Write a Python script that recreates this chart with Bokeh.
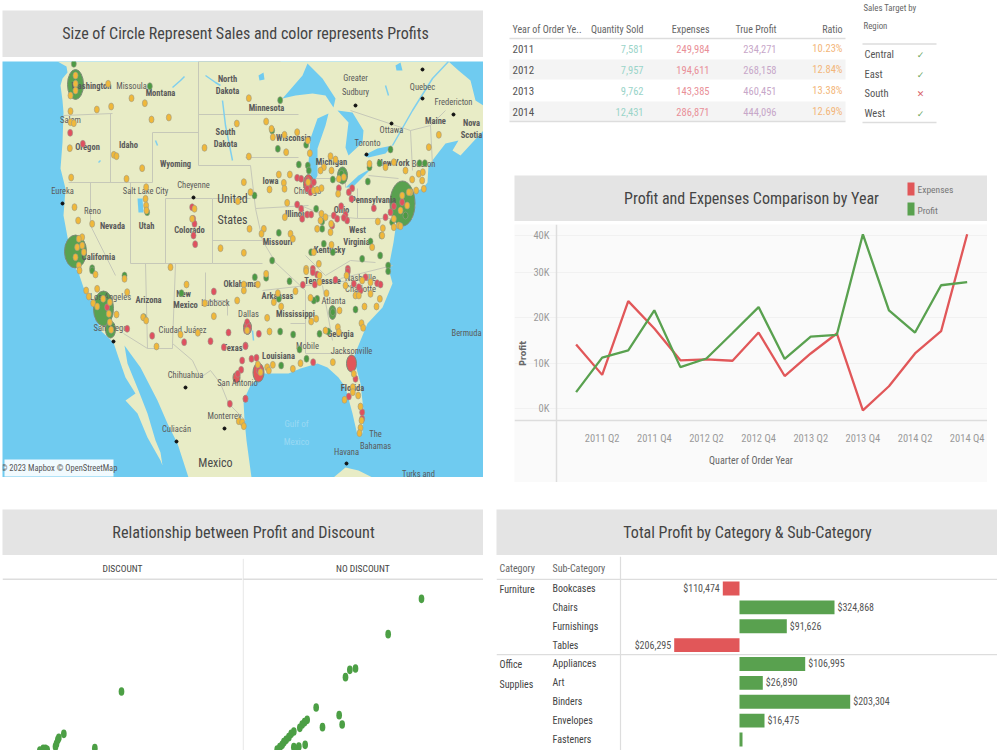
from bokeh.plotting import figure
from bokeh.layouts import column, row
from bokeh.models import Range1d, FixedTicker
from bokeh.core.properties import value
from bokeh.embed import file_html
from bokeh.resources import INLINE

F = "Roboto Condensed"
GREEN = "#59a14f"
RED = "#e15759"
BAND = "#e4e4e4"

# ---------- table data
years = ["2011", "2012", "2013", "2014"]
quantity = ["7,581", "7,957", "9,762", "12,431"]
expenses = ["249,984", "194,611", "143,385", "286,871"]
true_profit = ["234,271", "268,158", "460,451", "444,096"]
ratio = ["10.23%", "12.84%", "13.38%", "12.69%"]
regions = ["Central", "East", "South", "West"]
region_met = [True, True, False, True]

# ---------- line chart data
quarter_labels = ["2011 Q2", "2011 Q4", "2012 Q2", "2012 Q4", "2013 Q2", "2013 Q4", "2014 Q2", "2014 Q4"]
quarter_label_idx = [1, 3, 5, 7, 9, 11, 13, 15]
expenses_q = [14200, 7500, 23700, 17700, 10700, 10900, 10600, 16800, 7250, 12200, 16600, -300, 5000, 12200, 17100, 38400]
profit_q = [3700, 11300, 12900, 21700, 9200, 11100, 16700, 22400, 11000, 15900, 16300, 38400, 21700, 16800, 27200, 27900]

# ---------- bar chart data
sub_cats = ["Bookcases", "Chairs", "Furnishings", "Tables", "Appliances", "Art", "Binders", "Envelopes", "Fasteners"]
bar_len = [-16.7, 95, 47.3, -65.3, 65.7, 23.3, 110.7, 25, 3]
bar_text = ["$110,474", "$324,868", "$91,626", "$206,295", "$106,995", "$26,890", "$203,304", "$16,475", ""]

# ---------- scatter data (axes are hidden)
disc_pts = [(363, 573), (190, 700), (175, 712), (172, 718), (168, 730), (165, 738), (283, 743), (135, 745), (128, 745), (140, 748), (118, 750)]
nodisc_pts = [(1263, 295), (1163, 401), (1065, 504), (1048, 508), (1035, 530), (947, 621), (1016, 644), (966, 680), (1025, 672),
              (920, 658), (912, 665), (905, 672), (898, 682), (880, 693), (872, 700), (865, 710), (857, 718), (850, 725),
              (845, 733), (838, 740), (830, 747), (914, 733), (895, 738), (880, 740), (884, 745)]

# ---------- map data, picture positions
land = [(57,61),(66,66),(67,72),(62,78),(60,85),(62,100),(63,112),(62,142),(60,168),(65,188),(63,215),(68,242),(75,268),(78,272),(83,287),(93,305),(100,330),(113,342),(118,357),(125,377),(135,393),(125,400),(137,413),(147,437),(160,460),(162,465),(160,452),(155,440),(147,413),(138,390),(127,363),(124,345),(140,367),(157,400),(167,423),(177,443),(188,477),(251,477),(246,440),(244,420),(243,400),(250,385),(257,378),(263,373),(275,373),(288,373),(300,368),(317,363),(327,367),(338,377),(345,387),(352,413),(357,435),(362,433),(363,410),(360,383),(353,357),(360,340),(367,323),(382,307),(392,283),(388,268),(393,242),(395,228),(412,218),(415,205),(412,192),(422,188),(427,182),(428,165),(438,152),(445,143),(458,140),(452,150),(460,155),(483,130),(483,105),(475,100),(470,80),(458,70),(448,61)]
cuba = [(333,477),(345,467),(358,470),(372,477)]
lakes = [
    [(282,98),(302,75),(307,63),(322,78),(335,98),(333,107),(325,95),(312,93),(295,95)],
    [(308,162),(310,138),(317,118),(328,113),(325,125),(317,148),(317,175),(312,185)],
    [(337,110),(352,112),(363,130),(362,142),(348,155),(345,147),(348,122)],
    [(345,187),(358,175),(372,167),(367,172),(352,187)],
    [(363,155),(377,148),(392,145),(385,153),(368,157)],
    [(137,198),(142,198),(143,212),(138,212)],
    [(395,65),(400,62),(402,70),(396,70)],
    [(258,75),(263,72),(264,79),(259,80)],
]
rivers = [[(448,61),(432,78),(412,110),(392,145)], [(172,87),(180,80),(184,76)], [(205,75),(215,82),(220,85)],
          [(222,100),(225,125),(232,160)], [(100,160),(98,162)], [(155,140),(157,145)], [(252,330),(253,340)], [(385,85),(388,95)]]
borders = [
    [(198,61),(198,165)], [(198,114),(298,114)], [(152,132),(198,132)], [(152,132),(152,182)], [(68,182),(152,182)],
    [(63,115),(112,113)], [(110,113),(110,182)], [(130,182),(130,263)], [(165,198),(212,198)], [(165,198),(165,263)],
    [(212,198),(212,263)], [(130,263),(212,263)], [(90,182),(90,225),(115,275)], [(245,157),(298,157)], [(198,165),(250,165)],
    [(212,198),(250,198)], [(255,208),(308,205)], [(250,165),(255,208),(262,240),(275,262)], [(212,240),(262,240)],
    [(212,263),(262,263)], [(357,188),(357,218)], [(357,218),(392,218)], [(368,175),(398,178)], [(305,290),(305,353)],
    [(322,285),(332,340)], [(305,353),(352,353)], [(262,290),(350,280)], [(290,323),(305,323)], [(275,262),(305,290)],
    [(205,272),(205,300),(227,300),(227,315)],
    [(123,333),(147,348),(172,348),(172,343),(192,360),(200,377),(210,370),(220,383),(228,403),(245,420)],
    [(145,263),(147,348)], [(175,263),(172,343)], [(315,178),(345,178),(345,187)], [(300,205),(325,215),(357,218)],
    [(198,61),(280,61)], [(350,110),(410,130),(430,125),(445,110)], [(410,130),(412,170)], [(430,125),(432,165)],
    [(305,255),(325,275),(350,260),(375,262)], [(340,278),(392,265)],
]

gold_nw = [(225,60),(225,85),(225,105),(210,120),(323,85),(393,128),(433,143),(332,153),(289,162),(210,167),(210,200),(220,203),(453,192),(505,186),(709,204),(612,277),(208,278),(340,298),(348,302),(425,338),(212,366),(378,370),(730,380),(437,395),(435,430),(437,450),(438,465),(222,455),(233,495),(275,505),(712,437),(582,460),(575,490),(660,578),(730,592),(245,545),(235,550),(230,575),(245,570),(225,605),(250,590),(235,630),(510,635)]
red_nw = [(209,232),(247,265),(575,455),(578,490),(582,505),(579,540),(584,566)]
green_nw = [(220,25),(448,92),(440,470),(275,638)]
gold_ne = [(10,128),(62,198),(78,220),(82,245),(117,238),(155,230),(187,255),(122,290),(193,293),(10,303),(255,302),(270,312),(235,335),(225,345),(258,345),(100,357),(133,357),(115,382),(72,402),(117,400),(280,370),(295,365),(278,415),(15,410),(188,380),(205,405),(215,403),(228,398),(372,325),(420,335),(445,320),(480,345),(580,238),(550,275),(520,355),(532,350),(530,375),(500,372),(495,410),(512,405),(535,400),(470,420),(490,410),(465,465),(485,450),(445,490),(397,498),(460,510),(445,515),(465,512),(125,442),(118,485),(228,475),(240,485),(225,495),(257,505),(215,520),(255,530),(55,520),(48,535),(135,535),(142,550),(12,520),(380,575),(410,540),(412,518),(205,590),(258,568),(220,625),(182,640)]
red_ne = [(155,367),(167,370),(185,375),(195,390),(205,380),(185,400),(195,410),(320,398),(310,410),(318,430),(280,398),(155,447),(167,460),(170,490),(185,477),(197,477),(265,480),(275,490),(287,452),(300,478),(305,495),(295,487),(260,510),(385,458),(420,485),(435,470),(445,452),(470,440),(202,640),(307,640)]
green_ne = [(104,134),(80,225),(182,268),(97,280),(160,327),(187,330),(190,345),(262,372),(288,355),(372,335),(435,282),(402,323),(522,323),(538,323),(367,378),(27,420),(212,460),(230,520),(100,532),(408,540),(375,558),(235,565),(197,590),(262,590),(350,610),(404,600),(80,615),(428,630),(440,500),(480,480),(230,498)]
gold_sw = [(237,0),(285,12),(372,25),(257,60),(265,78),(290,55),(380,65),(278,98),(290,108),(308,85),(328,95),(325,130),(348,132),(328,155),(332,178),(428,140),(437,150),(558,42),(613,98),(710,90),(730,42),(730,60),(640,137),(540,192),(592,187),(468,228),(715,452),(725,455),(730,467)]
red_sw = [(640,63),(320,110),(380,175),(455,196),(551,215),(684,186),(630,212),(670,230),(735,225),(725,270),(722,298),(712,310),(688,400),(735,385)]
green_sw = [(275,0),(372,15),(543,68),(430,140)]
gold_se = [(62,10),(37,42),(97,68),(85,95),(107,108),(150,62),(195,82),(243,68),(282,120),(197,153),(212,145),(65,142),(72,183),(240,180),(277,170),(280,185),(262,275),(165,278),(142,295),(82,283),(65,290),(70,300),(37,282),(45,305),(348,158),(353,172),(357,108),(393,108),(403,85),(375,70),(300,45),(303,15),(182,2),(222,15),(222,35),(330,75),(340,75),(325,310),(322,350),(322,365),(338,375),(297,388),(345,408),(345,472),(342,488),(348,450),(375,35),(350,30),(5,180)]
red_se = [(5,155),(10,170),(2,180),(40,190),(0,227),(18,265),(33,262),(40,300),(203,275),(345,60),(340,50),(325,40),(360,20),(395,38),(405,42),(172,43),(208,42),(215,12),(202,5),(270,28),(307,3),(330,325),(310,378),(350,425),(350,445),(0,385)]
green_se = [(28,20),(62,22),(132,32),(100,85),(215,85),(205,90),(262,125),(330,117),(104,183),(143,192),(222,190),(248,183),(162,237),(183,265),(107,285),(428,2)]

big_x = [75, 75, 103, 110, 402, 351, 258, 236, 247, 332, 308, 342]
big_y = [84, 251, 308, 329, 203, 363, 372, 377, 327, 312, 183, 175]
big_w = [16, 22, 20, 10, 25, 10, 11, 7, 8, 7, 10, 10]
big_h = [30, 33, 35, 17, 45, 17, 19, 11, 14, 14, 18, 17]
big_c = [GREEN, GREEN, GREEN, GREEN, GREEN, RED, RED, RED, RED, GREEN, RED, GREEN]

city_dots = [(62,203),(193,197),(355,105),(422,69),(422,98),(453,114),(391,123),(366,154),(113,341),(185,387),(224,428),(176,441),(346,463)]
state_labels = [("Washington",91,85),("Montana",160,92),("North",227,78),("Dakota",227,90),("South",225,131),("Dakota",225,143),("Oregon",87,146),("Idaho",128,144),("Wyoming",175,163),("Nevada",112,225),("Utah",146,225),("Colorado",189,229),("California",98,256),("Minnesota",266,107),("Wisconsin",293,137),("Michigan",331,161),("Iowa",270,180),("New York",393,162),("Pennsylvania",373,199),("Illinois",296,213),("Ohio",341,209),("West",357,229),("Virginia",356,241),("Missouri",277,241),("Kentucky",329,249),("Tennessee",322,280),("Arkansas",277,295),("Oklahoma",240,283),("Mississippi",295,313),("Georgia",340,333),("Louisiana",278,355),("Florida",352,387),("Texas",232,347),("Arizona",148,299),("New",183,293),("Mexico",185,304),("Maine",435,120),("Nova",471,122),("Scotia",471,134)]
city_labels = [("Missoula",131,85),("Salem",70,119),("Cheyenne",193,184),("Eureka",62,190),("Reno",92,210),("Salt Lake City",145,190),("Greater",355,77),("Sudbury",355,91),("Quebec",422,86),("Fredericton",453,101),("Ottawa",391,129),("Toronto",367,142),("Boston",423,163),("Chicago",307,190),("Dallas",248,313),("Atlanta",333,300),("Charlotte",360,288),("Nashville",360,277),("Mobile",307,345),("Jacksonville",351,350),("San Antonio",237,382),("Lubbock",215,302),("Los Angeles",110,296),("San Diego",110,327),("Ciudad Juárez",182,329),("Chihuahua",185,374),("Monterrey",224,415),("Culiacán",176,428),("Havana",346,451),("The",375,433),("Bahamas",375,445),("Bermuda",466,332),("Turks and",418,473)]
big_labels = [("United",232,198),("States",232,219),("Mexico",215,462)]
sea_labels = [("Gulf of",296,423),("Mexico",296,441)]


def crop_pts(pts, ox, oy):
    return [x / 3 + ox for x, y in pts], [y / 3 + oy for x, y in pts]


def base(w, h, xr, yr, margin, bg="white"):
    p = figure(width=w, height=h, x_range=Range1d(*xr), y_range=Range1d(*yr), toolbar_location=None,
               output_backend="svg", min_border=0, outline_line_color=None, background_fill_color=bg,
               border_fill_color=bg, margin=margin, x_axis_type=None, y_axis_type=None)
    p.grid.visible = False
    return p


def T(p, x, y, txt, size, color="#555555", align="center", font=F, style="normal"):
    p.text(x=x, y=y, text=txt, text_font=value(font), text_font_size=value(f"{size}px"), text_color=color,
           text_align=align, text_baseline="middle", text_font_style=style)


def band(title, x0, x1, y0, y1, cx, margin, size):
    p = base(x1 - x0, y1 - y0, (x0, x1), (y1, y0), margin, BAND)
    T(p, [cx], [(y0 + y1) / 2 - 0.5], [title], size, "#444444")
    return p


# ---------- map
b1 = band("Size of Circle Represent Sales and color represents Profits", 2, 483, 10, 57, 245, (10, 0, 0, 2), 16)
m = base(481, 416, (2, 483), (477, 61), (4, 0, 0, 2), "#6fcbf0")
m.patch([a for a, _ in land], [b for _, b in land], fill_color="#e8ecc6", line_color=None)
m.patch([a for a, _ in cuba], [b for _, b in cuba], fill_color="#e8ecc6", line_color=None)
m.multi_line([[a for a, _ in s] for s in borders], [[b for _, b in s] for s in borders], line_color="#c6c8b8", line_width=1)
m.patches([[a for a, _ in s] for s in lakes], [[b for _, b in s] for s in lakes], fill_color="#6fcbf0", line_color=None)
m.multi_line([[a for a, _ in s] for s in rivers], [[b for _, b in s] for s in rivers], line_color="#7fcfee", line_width=1.5)
m.ellipse(big_x, big_y, width=big_w, height=big_h, fill_color=big_c, line_color="#7d8a78", line_width=1)
T(m, [t[1] for t in state_labels], [t[2] for t in state_labels], [t[0] for t in state_labels], 8.5, "#5a5a5a", style="bold")
T(m, [t[1] for t in city_labels], [t[2] for t in city_labels], [t[0] for t in city_labels], 8.5, "#5a5a5a")
T(m, [t[1] for t in big_labels], [t[2] for t in big_labels], [t[0] for t in big_labels], 12, "#4a4a4a")
T(m, [t[1] for t in sea_labels], [t[2] for t in sea_labels], [t[0] for t in sea_labels], 9, "#9ad9f3")
m.scatter([a for a, _ in city_dots], [b for _, b in city_dots], size=3, color="#111111")
offsets = [(0, 55), (245, 55), (0, 270), (245, 270)]
for pts_list, col in (([green_nw, green_ne, green_sw, green_se], "#4c9a43"), ([red_nw, red_ne, red_sw, red_se], "#e0505f"), ([gold_nw, gold_ne, gold_sw, gold_se], "#f0b83a")):
    xs, ys = [], []
    for pts, (ox, oy) in zip(pts_list, offsets):
        a, b = crop_pts(pts, ox, oy)
        xs += a
        ys += b
    m.ellipse(xs, ys, width=5, height=7, fill_color=col, line_color="#9a9a8a", line_width=0.6)
m.quad(left=[4], right=[113], top=[459], bottom=[476], fill_color="white", fill_alpha=0.9, line_color=None)
T(m, [58.5], [467.5], ["© 2023 Mapbox © OpenStreetMap"], 8.5, "#555555")

# ---------- scatter
b3 = band("Relationship between Profit and Discount", 2, 483, 509, 555, 243, (32, 0, 0, 2), 16.2)
s1 = base(240, 194, (6, 726), (750, 168), (1, 0, 0, 2))
s2 = base(241, 194, (726, 1449), (750, 168), (1, 0, 0, 0))
for s, pts, name, cx in ((s1, disc_pts, "DISCOUNT", 366), (s2, nodisc_pts, "NO DISCOUNT", 1087)):
    s.ellipse([a for a, _ in pts], [b for _, b in pts], width=17, height=26, fill_color="#4c9f45", line_color=None)
    T(s, [cx], [205], [name], 9.5, "#444444")
s1.segment([6], [236], [726], [236], line_color="#dddddd", line_width=1.5)
s2.segment([726], [236], [1449], [236], line_color="#dddddd", line_width=1.5)
s2.segment([728], [175], [728], [750], line_color="#e2e2e2", line_width=1)

# ---------- table
t = base(495, 135, (505, 1000), (135, 0), (0, 0, 0, 22))
t.quad(left=[509, 509], right=[845, 845], top=[59, 101], bottom=[79, 121], fill_color="#f4f4f4", line_color=None)
t.segment([509, 509, 862, 862], [38, 121, 43.5, 122], [845, 845, 936, 936], [38, 121, 43.5, 122], line_color="#dddddd", line_width=1.5)
row_y = [48, 69, 90, 111]
for lab, x, al in (("Year of Order Ye..", 512, "left"), ("Quantity Sold", 643, "right"), ("Expenses", 709, "right"), ("True Profit", 776, "right"), ("Ratio", 842, "right")):
    T(t, [x], [29], [lab], 10, "#666666", al)
T(t, [512] * 4, row_y, years, 11, "#555555", "left")
T(t, [643] * 4, row_y, quantity, 10.5, "#9ad4c9", "right")
T(t, [709] * 4, row_y, expenses, 10.5, "#e98f98", "right")
T(t, [776] * 4, row_y, true_profit, 10.5, "#c7a7c9", "right")
T(t, [842] * 4, row_y, ratio, 10.5, "#f3b679", "right")
T(t, [863, 863], [7, 25], ["Sales Target by", "Region"], 8.8, "#666666", "left")
reg_y = [54, 74, 93, 113]
T(t, [864] * 4, reg_y, regions, 10.5, "#555555", "left")
for y_, k in zip(reg_y, region_met):
    T(t, [920], [y_], ["✓" if k else "✕"], 9, "#6aa85f" if k else "#d8626a", font="DejaVu Sans")

# ---------- line chart
b2 = band("Profit and Expenses Comparison by Year", 514, 987, 175, 221, 751, (40, 0, 0, 31), 16)
b2.quad(left=[907, 907], right=[914, 914], top=[182, 202], bottom=[195, 215], fill_color=[RED, GREEN], line_color=None)
T(b2, [917, 917], [189, 210], ["Expenses", "Profit"], 9.5, "#777777", "left")

l = figure(width=473, height=258, x_range=Range1d(-2.363, 15.78), y_range=Range1d(-16154, 40549), toolbar_location=None,
           output_backend="svg", min_border=0, outline_line_color=None, background_fill_color="#fafafa",
           border_fill_color="#fafafa", margin=(3, 0, 0, 31))
q = list(range(len(expenses_q)))
l.line(q, expenses_q, line_color=RED, line_width=2.3)
l.line(q, profit_q, line_color=GREEN, line_width=2.3)
l.xgrid.visible = False
l.ygrid.bounds = (-0.752, 15.78)
l.ygrid.grid_line_color = "#f1f1f1"
xa = l.xaxis[0]
ya = l.yaxis[0]
xa.fixed_location = -2527
ya.fixed_location = -0.752
xa.ticker = FixedTicker(ticks=quarter_label_idx)
xa.major_label_overrides = dict(zip(quarter_label_idx, quarter_labels))
ya.ticker = FixedTicker(ticks=[0, 10000, 20000, 30000, 38200])
ya.major_label_overrides = {0: "0K", 10000: "10K", 20000: "20K", 30000: "30K", 38200: "40K"}
for a in (xa, ya):
    a.axis_line_color = "#dddddd"
    a.axis_line_width = 1.5
    a.major_tick_line_color = None
    a.minor_tick_line_color = None
    a.major_label_text_font = F
    a.major_label_text_font_size = "10.5px"
    a.major_label_text_color = "#9a9a9a"
xa.major_label_standoff = 6
xa.axis_label = "Quarter of Order Year"
xa.axis_label_text_font = F
xa.axis_label_text_font_size = "10px"
xa.axis_label_text_font_style = "normal"
xa.axis_label_text_color = "#666666"
xa.axis_label_standoff = 6
ya.major_label_standoff = 1
ya.major_label_orientation = "horizontal"
ya.axis_label = "Profit"
ya.axis_label_text_font = "DejaVu Sans"
ya.axis_label_text_font_size = "8px"
ya.axis_label_text_font_style = "bold"
ya.axis_label_text_color = "#666666"
ya.axis_label_standoff = 2

# ---------- bars
b5 = band("Total Profit by Category & Sub-Category", 496, 997, 509, 555, 747, (27, 0, 0, 13), 16)
c = base(501, 194, (-243, 258), (8.583, -1.695), (1, 0, 0, 13))
idx = list(range(len(sub_cats)))
pos = [v if v > 0 else 0 for v in bar_len]
neg = [v if v < 0 else 0 for v in bar_len]
c.hbar(y=idx, left=neg, right=pos, height=0.74, fill_color=[GREEN if v > 0 else RED for v in bar_len], line_color=None)
c.segment([-243, -243, -119], [-0.48, 3.5, -1.695], [258, 258, -119], [-0.48, 3.5, 8.583], line_color="#dddddd", line_width=1.2)
T(c, [-187] * len(idx), idx, sub_cats, 10, "#444444", "left")
T(c, [-240, -187], [-1.06, -1.06], ["Category", "Sub-Category"], 10, "#666666", "left")
T(c, [-240, -240, -240], [0.05, 4.05, 5.1], ["Furniture", "Office", "Supplies"], 10, "#444444", "left")
for i, (v, s) in enumerate(zip(bar_len, bar_text)):
    if s:
        T(c, [v + (3 if v > 0 else -3)], [i], [s], 10, "#555555", "left" if v > 0 else "right")

left = column(b1, m, b3, row(s1, s2, spacing=0), spacing=0, margin=0)
right = column(t, b2, l, b5, c, spacing=0, margin=0)
root = row(left, right, spacing=0, margin=0)

open("out.html", "w").write(file_html(root, INLINE))
